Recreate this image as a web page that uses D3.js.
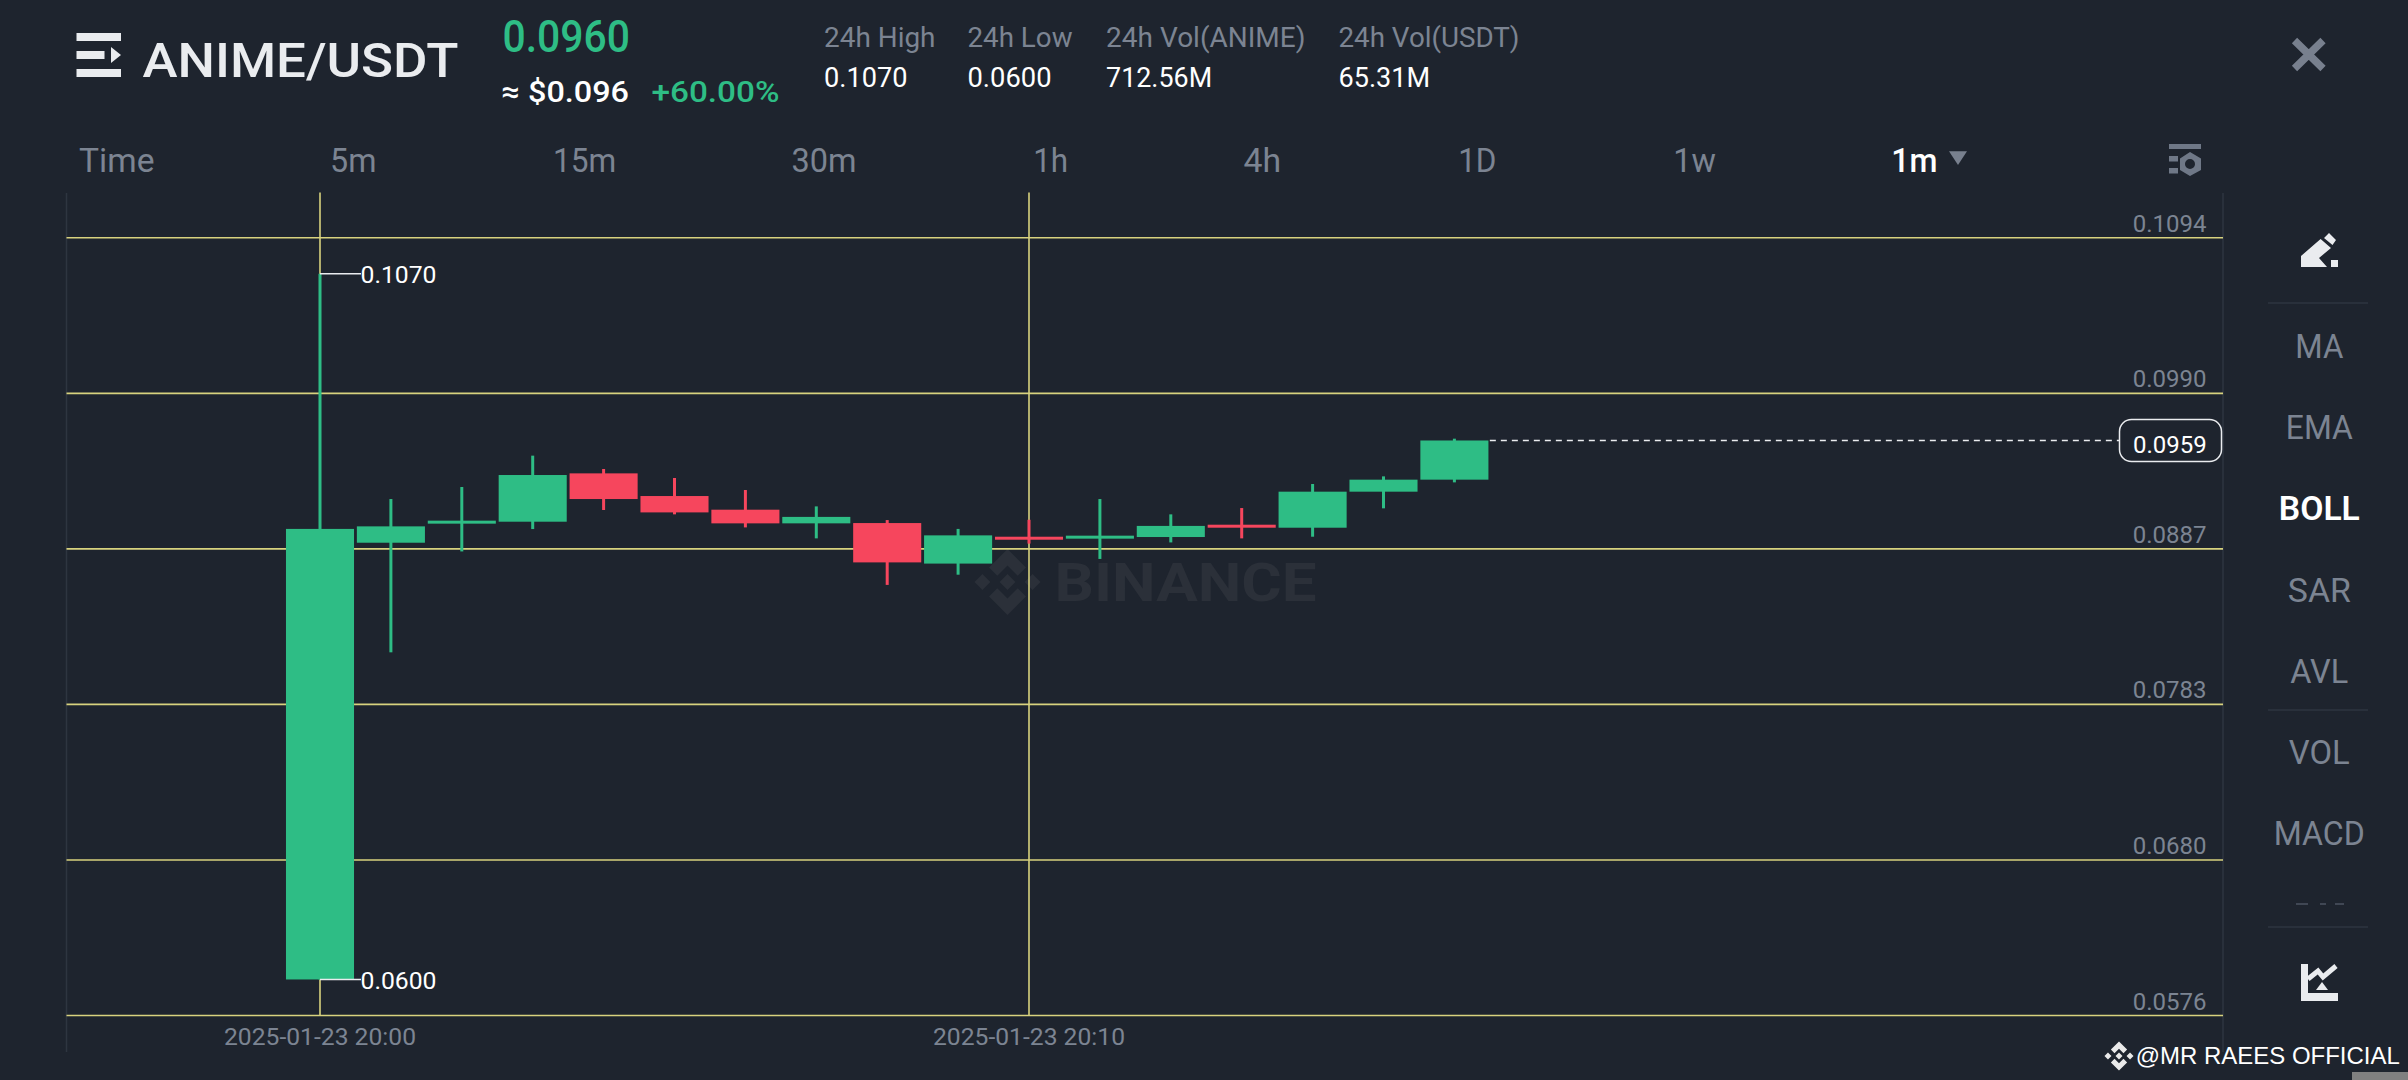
<!DOCTYPE html>
<html><head><meta charset="utf-8">
<script src="https://cdn.jsdelivr.net/npm/d3@7"></script>
<style>html,body{margin:0;padding:0;background:#1e242e;overflow:hidden}svg{display:block}text{font-family:Roboto,sans-serif}</style>
</head><body><svg id="c" width="2408" height="1080"></svg>
<script>
// ---- data
const times = ["20:00","20:01","20:02","20:03","20:04","20:05","20:06","20:07","20:08","20:09","20:10","20:11","20:12","20:13","20:14","20:15","20:16"];
const opens  = [0.0600,0.08909,0.09040,0.09049,0.09371,0.0922,0.09129,0.09038,0.0904,0.0877,0.08949,0.08938,0.08947,0.09029,0.09009,0.09249,0.09329];
const closes = [0.09001,0.09018,0.09056,0.0936,0.0920,0.09111,0.09038,0.09081,0.08778,0.08958,0.08931,0.08956,0.09021,0.09011,0.09249,0.09329,0.0959];
const highs  = [0.1070,0.0920,0.0928,0.09489,0.0940,0.0934,0.0926,0.09151,0.0906,0.09001,0.09062,0.0920,0.09098,0.0914,0.0930,0.09351,0.09602];
const lows   = [0.0600,0.08179,0.08851,0.0900,0.09127,0.09098,0.09011,0.08938,0.08628,0.08696,0.08903,0.08801,0.08911,0.08938,0.08949,0.09138,0.09311];
const priceTicks = [0.1094,0.09904,0.08868,0.07832,0.06796,0.0576];
const timeTicks = ["20:00","20:10"];
const datePrefix = "2025-01-23 ";
const lastPrice = 0.0959;
const maxPrice = 0.1070, minPrice = 0.0600;
const statLabels = ["24h High","24h Low","24h Vol(ANIME)","24h Vol(USDT)"];
const statValues = ["0.1070","0.0600","712.56M","65.31M"];
const tabLabels = ["Time","5m","15m","30m","1h","4h","1D","1w","1m"];
const sideLabels = ["MA","EMA","BOLL","SAR","AVL","VOL","MACD"];

// ---- style
const BG="#1e242e", GREEN="#2ebd85", RED="#f6465d", GRID="#d8d27e", GRAY="#7c8492", WHITE="#eaecef", AX="#2e3540", SIDE="#7c8492";
const svg=d3.select("#c");
svg.append("rect").attr("width",2408).attr("height",1080).attr("fill",BG);

function txt(s,x,y,size,fill,opt={}){
  const a=opt.a||"start";
  const px=(opt.len&&a==="start")?x-1.5:x;
  const t=svg.append("text").text(s).attr("x",px).attr("y",y).attr("font-size",size).attr("fill",fill)
    .attr("font-weight",opt.w||400).attr("text-anchor",a);
  if(opt.f) t.style("font-family",opt.f);
  if(opt.len) t.attr("textLength",opt.len+3).attr("lengthAdjust","spacingAndGlyphs");
  return t;
}
function logo(cx,cy,r,fill){
  const g=svg.append("g").attr("transform",`translate(${cx},${cy}) scale(${r})`).attr("fill",fill);
  const dia=(x,y,s)=>`M${x-s},${y}L${x},${y-s}L${x+s},${y}L${x},${y+s}Z`;
  g.append("path").attr("d",dia(0,0,.24)+dia(-.76,0,.24)+dia(.76,0,.24)
    +"M0,-1L.56,-.44L.31,-.19L0,-.5L-.31,-.19L-.56,-.44Z"
    +"M0,1L.56,.44L.31,.19L0,.5L-.31,.19L-.56,.44Z");
}

// ---- scales
const x=d3.scaleBand().domain(times).range([284.55,1489.85]).paddingInner(.04).paddingOuter(.02);
const y=d3.scaleLinear().domain([0.0576,0.1094]).range([1015.5,237.8]);
const cx=d=>x(d)+x.bandwidth()/2;

// ---- frame of the plot
const AL=66.5, AR=2223;
svg.append("line").attr("x1",AL).attr("x2",AL).attr("y1",193).attr("y2",1052).attr("stroke",AX).attr("stroke-width",1.5);
svg.append("line").attr("x1",AR).attr("x2",AR).attr("y1",193).attr("y2",1052).attr("stroke",AX).attr("stroke-width",1.5);

// ---- exchange watermark
logo(1007.5,582,33,"#2b3039");
txt("BINANCE",1056,601,53,"#2b3039",{w:700,len:259});

// ---- axes and grid
const yAxis=svg.append("g").attr("transform",`translate(${AR},0)`)
  .call(d3.axisLeft(y).tickValues(priceTicks).tickFormat(d3.format(".4f")).tickSize(AR-AL).offset(0));
yAxis.select(".domain").remove();
yAxis.selectAll("line").attr("stroke",GRID).attr("stroke-width",1.6);
yAxis.selectAll("text").attr("x",-16.5).attr("y",-6).attr("dy",0).attr("text-anchor","end")
  .attr("font-size",24).attr("fill",GRAY).style("font-family","Roboto,sans-serif");

const xAxis=svg.append("g").attr("transform","translate(0,1015.5)")
  .call(d3.axisBottom(x).tickValues(timeTicks).tickFormat(d=>datePrefix+d).tickSize(-823).offset(0));
xAxis.select(".domain").remove();
xAxis.selectAll("line").attr("stroke",GRID).attr("stroke-width",1.6);
xAxis.selectAll("text").attr("y",29.7).attr("dy",0).attr("font-size",24).attr("fill",GRAY)
  .attr("textLength",192).attr("lengthAdjust","spacingAndGlyphs")
  .style("font-family","Roboto,sans-serif");

// ---- candles
const rows=times.map((t,i)=>({t,o:opens[i],c:closes[i],h:highs[i],l:lows[i]}));
const col=d=>d.c>=d.o?GREEN:RED;
const cg=svg.append("g");
cg.selectAll(".w").data(rows).join("line").attr("class","w")
  .attr("x1",d=>cx(d.t)).attr("x2",d=>cx(d.t)).attr("y1",d=>y(d.h)).attr("y2",d=>y(d.l))
  .attr("stroke",col).attr("stroke-width",3);
cg.selectAll(".b").data(rows).join("rect").attr("class","b")
  .attr("x",d=>x(d.t)).attr("width",x.bandwidth())
  .attr("y",d=>y(Math.max(d.o,d.c))).attr("height",d=>Math.max(3,Math.abs(y(d.o)-y(d.c))))
  .attr("fill",col);

// ---- high / low callouts
[maxPrice,minPrice].forEach(v=>{
  const c0=cx(times[0]);
  svg.append("line").attr("x1",c0).attr("x2",c0+41).attr("y1",y(v)).attr("y2",y(v)).attr("stroke","#eaecef").attr("stroke-width",1.5);
  txt(d3.format(".4f")(v),c0+42,y(v)+9.5,24,"#ffffff",{len:73});
});

// ---- last price
const ly=y(lastPrice);
svg.append("line").attr("x1",x.range()[0]+x.step()*17).attr("x2",2119).attr("y1",ly).attr("y2",ly)
  .attr("stroke",WHITE).attr("stroke-width",1.5).attr("stroke-dasharray","6 5");
svg.append("rect").attr("x",2119.5).attr("y",419.5).attr("width",102).attr("height",42).attr("rx",12)
  .attr("fill",BG).attr("stroke",WHITE).attr("stroke-width",1.5);
txt(d3.format(".4f")(lastPrice),2206.7,452.7,24,"#ffffff",{a:"end"});

// ---- header
const ic=svg.append("g").attr("fill",WHITE);
ic.append("rect").attr("x",76.5).attr("y",33).attr("width",44.5).attr("height",8);
ic.append("rect").attr("x",76.5).attr("y",51).attr("width",28).attr("height",8);
ic.append("rect").attr("x",76.5).attr("y",69).attr("width",44.5).attr("height",8);
ic.append("path").attr("d","M111,47L121,55L111,63Z");
txt("ANIME/USDT",144,76.7,48,WHITE,{w:500,len:313});
txt("0.0960",504,51.7,44,GREEN,{w:500,len:124.5});
txt("≈ $0.096",503,101.7,30,"#ffffff",{w:500,len:124.5});
txt("+60.00%",653,101.7,30,GREEN,{w:500,len:125});

const statX=[825.5,969,1107.6,1340], statW=[108.5,102,196.4,178], valW=[80.5,81,103,88.6];
statLabels.forEach((s,i)=>txt(s,statX[i],46.7,28,GRAY,{len:statW[i]}));
statValues.forEach((s,i)=>txt(s,statX[i],86.7,28,"#ffffff",{len:valW[i]}));

const tabX=[80.6,331.6,554.6,793,1034.7,1245,1459.7,1674.7,1892.8], tabW=[72.4,43.4,60.2,62,32,34.6,35.3,39.7,43.2];
tabLabels.forEach((s,i)=>txt(s,tabX[i],172.3,33,i===8?"#ffffff":SIDE,{w:i===8?500:400,len:tabW[i]}));
svg.append("path").attr("d","M1949,151.3H1967L1958,165Z").attr("fill","#78808e");

// settings icon
const si=svg.append("g").attr("fill","#6f7887");
si.append("rect").attr("x",2169).attr("y",144).attr("width",32).attr("height",5);
si.append("rect").attr("x",2169).attr("y",156).attr("width",9).attr("height",5.5);
si.append("rect").attr("x",2169).attr("y",168).attr("width",9).attr("height",5.5);
si.append("path").attr("fill-rule","evenodd").attr("d","M2190,152L2201,158.5V170L2190,176L2180,170V158.5ZM2190,159A5,5 0 1 0 2190,169A5,5 0 1 0 2190,159Z");

// close
svg.append("path").attr("d","M2294.5,40.5L2323,68.5M2323,40.5L2294.5,68.5").attr("stroke","#78808e").attr("stroke-width",7.5).attr("fill","none");

// ---- side menu
const sideY=[358.3,439,520,602,683,764.3,845], sideW=[45,64,78,60,55,58,88];
sideLabels.forEach((s,i)=>txt(s,2319.3,sideY[i],33,i===2?"#ffffff":SIDE,{a:"middle",w:i===2?600:400,len:sideW[i]}));
[303,710,927].forEach(v=>svg.append("line").attr("x1",2268).attr("x2",2368).attr("y1",v).attr("y2",v).attr("stroke",AX).attr("stroke-width",1.5));
svg.append("path").attr("d","M2296,904H2308M2320,904H2326M2335,904H2344").attr("stroke","#4c5361").attr("stroke-width",1.5);
// pen icon
svg.append("path").attr("fill",WHITE).attr("d","M2301,267V256L2320.6,239L2331,248L2319,258L2327,267ZM2324,238L2329,233L2336,240L2332.5,245Z");
svg.append("rect").attr("x",2331).attr("y",260).attr("width",7).attr("height",7).attr("fill",WHITE);
// chart icon
svg.append("path").attr("fill",WHITE).attr("d","M2301,964H2308V993H2338V1001H2301ZM2322,982L2328,990H2316Z");
svg.append("path").attr("fill","none").attr("stroke",WHITE).attr("stroke-width",5).attr("d","M2308,979L2318,971L2323,977L2336,966");

// ---- footer watermark
logo(2119,1056,14.5,"#eaeaea");
txt("@MR RAEES OFFICIAL",2137.3,1064.3,24,"#ffffff",{f:"'Liberation Sans',Arial,sans-serif",len:261});
svg.append("rect").attr("x",2352).attr("y",1072).attr("width",56).attr("height",8).attr("fill","#808080");
</script></body></html>
